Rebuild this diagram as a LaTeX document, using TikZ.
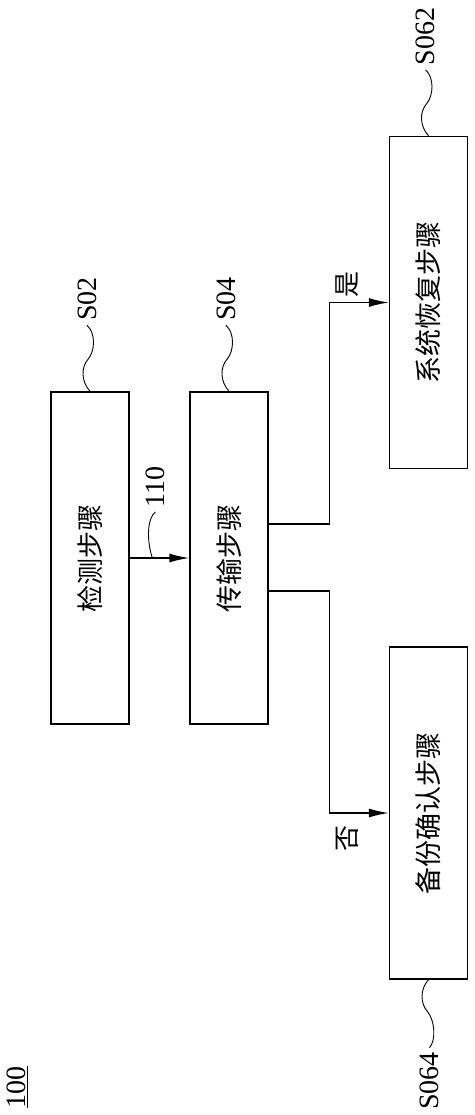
\documentclass[tikz,border=0pt]{standalone}
\usepackage{xcolor}
\usepackage{fontspec}
\setmainfont{Liberation Serif}
\newfontfamily\cjk{Noto Sans CJK SC}
\usepackage{tikz}
\usetikzlibrary{arrows.meta}

\begin{document}
\begin{tikzpicture}[x=1pt, y=-1pt, line width=1.4pt,
        stepbox/.style={draw, rectangle, minimum width=78pt, minimum height=332pt, inner sep=0pt, font=\cjk\fontsize{27}{29}\selectfont},
        lbl/.style={rotate=90, inner sep=4pt, font=\fontsize{28}{30}\selectfont},
        branch/.style={rotate=90, inner sep=0pt, font=\cjk\fontsize{26}{28}\selectfont},
        arr/.style={-{Latex[length=20pt, width=9pt]}},
        leader/.style={line width=0.9pt}]
        \useasboundingbox (0,0) rectangle (474,1115);

        % Nodes for the steps
        \node [stepbox] (detect) at (90,558) {\rotatebox{90}{检测步骤}};
        \node [stepbox] (transfer) at (229,558) {\rotatebox{90}{传输步骤}};
        \node [stepbox] (recover) at (428.5,302.5) {\rotatebox{90}{系统恢复步骤}};
        \node [stepbox] (backup) at (428.5,813) {\rotatebox{90}{备份确认步骤}};

        % Arrows for the steps
        \draw [arr] (detect.east) -- coordinate[pos=0.38] (tap) (transfer.west);
        \draw [arr] ([yshift=34pt]transfer.east) -- ++(61,0) |- (recover.west);
        \draw [arr] ([yshift=-33pt]transfer.east) -- ++(61,0) |- (backup.west);
        \node [branch] (yes) at (347,284) {是};
        \node [branch] (no) at (347,838) {否};

        % Leaders and reference numerals
        \draw [leader] (detect.north) .. controls +(-9,-10) and +(-7,8) .. ++(-2,-32) .. controls +(7,-8) and +(9,8) .. ++(-1,-34) node [lbl, anchor=west] (s02) {S02};
        \draw [leader] (transfer.north) .. controls +(-9,-10) and +(-7,8) .. ++(-2,-32) .. controls +(7,-8) and +(9,8) .. ++(-1,-34) node [lbl, anchor=west] (s04) {S04};
        \draw [leader] (recover.north) .. controls +(-9,-10) and +(-7,8) .. ++(-2,-32) .. controls +(7,-8) and +(9,8) .. ++(-1,-34) node [lbl, anchor=west] (s062) {S062};
        \draw [leader] (backup.south) .. controls +(-9,10) and +(-7,-8) .. ++(-1,32) .. controls +(7,8) and +(7,-8) .. ++(2,36) node [lbl, anchor=east] (s064) {S064};
        \draw [leader] (tap) .. controls +(-6,-18) and +(-8,6) .. ++(3,-46) node [lbl, anchor=west] (n110) {110};
        \node [lbl] (fig) at (17,1087) {\underline{100}};
    \end{tikzpicture}
\end{document}
